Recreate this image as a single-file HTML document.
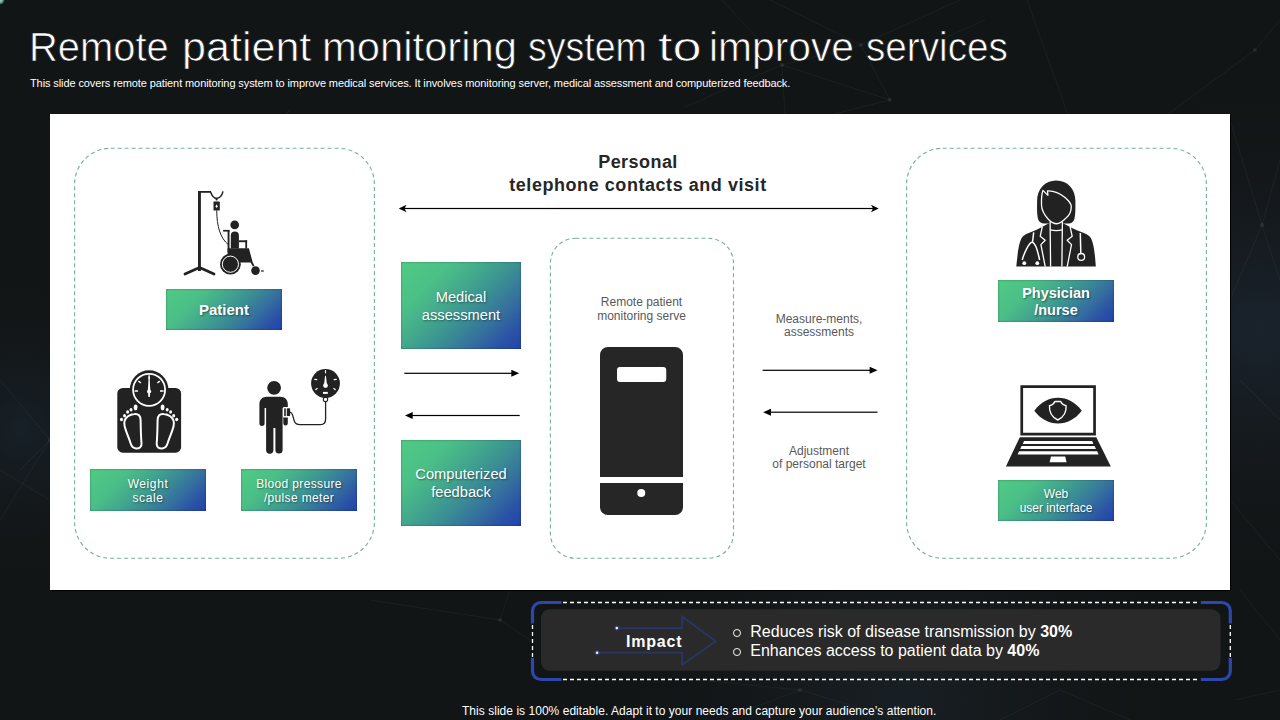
<!DOCTYPE html>
<html>
<head>
<meta charset="utf-8">
<style>
html,body{margin:0;padding:0;}
body{width:1280px;height:720px;position:relative;overflow:hidden;background:#121516;font-family:"Liberation Sans",sans-serif;}
.abs{position:absolute;}
.t{position:absolute;white-space:nowrap;}
#title{left:0;top:23px;width:1280px;height:48px;font-size:40px;line-height:48px;color:#fff;-webkit-text-stroke:0.7px #121516;}
.tw{position:absolute;top:0;transform-origin:0 0;}
#sub{left:30px;top:76px;font-size:11px;line-height:14px;color:#fff;letter-spacing:-0.1px;}
#foot{left:462px;top:704.2px;font-size:12px;line-height:15px;color:#fff;letter-spacing:0.033px;}
#panel{left:50px;top:114px;width:1180px;height:476px;background:#fff;box-shadow:0 0 1px 0.5px #000;}
.dash{position:absolute;border:1px dashed #79a894;box-sizing:border-box;}
.g{position:absolute;background:linear-gradient(135deg,#4fcb83 0%,#4bbf87 25%,#41a38e 45%,#3b9093 57%,#356f9f 74%,#2a52a6 88%,#2243ab 100%);box-shadow:inset 0 0 2px rgba(0,0,0,0.45);color:#fff;text-align:center;text-shadow:1px 1px 2px rgba(0,0,0,0.45);}
.gray{position:absolute;color:#595959;font-size:12px;line-height:13.7px;text-align:center;white-space:nowrap;}
svg{position:absolute;overflow:visible;}
.bul{display:inline-block;width:5.8px;height:5.8px;border:1.2px solid #fff;border-radius:50%;margin:0 9.5px 0 1px;vertical-align:0px;}
</style>
</head>
<body>
<svg id="bg" class="abs" style="left:0;top:0" width="1280" height="720">
 <defs>
  <radialGradient id="rg1" cx="1260" cy="330" r="260" gradientUnits="userSpaceOnUse">
   <stop offset="0" stop-color="#1b2530" stop-opacity="0.9"/><stop offset="1" stop-color="#121516" stop-opacity="0"/>
  </radialGradient>
  <radialGradient id="rg2" cx="20" cy="430" r="160" gradientUnits="userSpaceOnUse">
   <stop offset="0" stop-color="#18222a" stop-opacity="0.9"/><stop offset="1" stop-color="#121516" stop-opacity="0"/>
  </radialGradient>
  <radialGradient id="rg3" cx="900" cy="700" r="300" gradientUnits="userSpaceOnUse">
   <stop offset="0" stop-color="#1a2228" stop-opacity="0.8"/><stop offset="1" stop-color="#121516" stop-opacity="0"/>
  </radialGradient>
  <radialGradient id="rg4" cx="0" cy="0" r="8" gradientUnits="userSpaceOnUse">
   <stop offset="0" stop-color="#a8d8c8"/><stop offset="0.35" stop-color="#6a9f90"/><stop offset="0.6" stop-color="#0a1a14"/><stop offset="1" stop-color="#121516" stop-opacity="0"/>
  </radialGradient>
 </defs>
 <rect width="1280" height="720" fill="url(#rg1)"/>
 <rect width="1280" height="720" fill="url(#rg2)"/>
 <rect width="1280" height="720" fill="url(#rg3)"/>
 <rect width="10" height="10" fill="url(#rg4)"/>
 <g stroke="#ffffff" stroke-opacity="0.045" stroke-width="1" fill="none">
  <path d="M722 0 L782 65 L785 115 M782 65 L861 45 L770 0 M861 45 L960 0 M782 65 L890 100 L861 45 M890 100 L830 115 M685 107 L782 65"/>
  <path d="M1027 0 L1068 115 M1255 50 L1167 115 M1255 50 L1280 20 M985 20 L940 40"/>
  <path d="M100 190 L210 190 L290 110 M100 190 L60 114 M210 190 L240 114"/>
  <path d="M0 380 L50 440 L0 520 M50 440 L20 470 M0 470 L50 500"/>
  <path d="M1230 120 L1262 225 L1280 280 M1262 225 L1230 300 M1262 225 L1280 160 M1240 380 L1280 420 M1230 500 L1280 560"/>
  <path d="M370 600 L500 620 L510 590 M500 620 L530 640 M720 720 L800 690 L900 720 M1000 720 L1060 690 L1130 720 M800 690 L700 680"/>
  <path d="M1240 590 L1280 640 M1235 700 L1280 690"/>
 </g>
 <g fill="#ffffff" fill-opacity="0.08">
  <circle cx="782" cy="65" r="2"/><circle cx="861" cy="45" r="2"/><circle cx="890" cy="100" r="2"/><circle cx="1255" cy="50" r="2"/>
  <circle cx="210" cy="190" r="2"/><circle cx="100" cy="190" r="2"/><circle cx="50" cy="440" r="2"/><circle cx="1262" cy="225" r="2"/><circle cx="500" cy="620" r="2"/><circle cx="800" cy="690" r="2"/>
 </g>
</svg>

<div id="title" class="t"><span class="tw" id="tw0" style="left:29.0px;transform:scaleX(0.997)">Remote</span><span class="tw" id="tw1" style="left:181.77px;transform:scaleX(1.0769)">patient</span><span class="tw" id="tw2" style="left:321.87px;transform:scaleX(1.0442)">monitoring</span><span class="tw" id="tw3" style="left:528.09px;transform:scaleX(0.9377)">system</span><span class="tw" id="tw4" style="left:657.84px;transform:scaleX(1.3066)">to</span><span class="tw" id="tw5" style="left:708.53px;transform:scaleX(1.019)">improve</span><span class="tw" id="tw6" style="left:865.67px;transform:scaleX(0.9671)">services</span></div>
<div id="sub" class="t">This slide covers remote patient monitoring system to improve medical services. It involves monitoring server, medical assessment and computerized feedback.</div>

<div id="panel" class="abs"></div>

<!-- dashed containers -->
<svg style="left:0;top:0" width="1280" height="720">
 <g fill="none" stroke="#74b09c" stroke-width="1.1" stroke-dasharray="4 3">
  <rect x="74.6" y="148.3" width="299.8" height="410" rx="36"/>
  <rect x="550.4" y="238.3" width="183.1" height="320" rx="25"/>
  <rect x="906.6" y="148.3" width="299.8" height="410" rx="36"/>
 </g>
</svg>

<!-- gradient labels -->
<div class="g" style="left:166px;top:289px;width:116px;height:41px;font-weight:bold;font-size:15px;line-height:41px;">Patient</div>
<div class="g" style="left:90px;top:469px;width:116px;height:41.5px;font-size:12px;line-height:14px;padding-top:8px;box-sizing:border-box;letter-spacing:0.6px;">Weight<br>scale</div>
<div class="g" style="left:241px;top:469px;width:116px;height:41.5px;font-size:12px;line-height:14px;padding-top:8px;box-sizing:border-box;letter-spacing:0.35px;">Blood pressure<br>/pulse meter</div>
<div class="g" style="left:401px;top:262px;width:120px;height:86.5px;font-size:14.7px;line-height:18px;padding-top:26px;box-sizing:border-box;">Medical<br>assessment</div>
<div class="g" style="left:401px;top:440px;width:120px;height:86px;font-size:14.7px;line-height:18px;padding-top:25px;box-sizing:border-box;">Computerized<br>feedback</div>
<div class="g" style="left:998px;top:280px;width:116px;height:41.6px;font-weight:bold;font-size:14.5px;line-height:17.5px;padding-top:4.6px;box-sizing:border-box;">Physician<br>/nurse</div>
<div class="g" style="left:998px;top:480px;width:116px;height:40.5px;font-size:12px;line-height:13.7px;padding-top:7.9px;box-sizing:border-box;">Web<br>user interface</div>

<!-- center texts -->
<div class="t" style="left:498px;top:151px;width:280px;text-align:center;font-weight:bold;font-size:18px;line-height:23px;color:#262626;letter-spacing:0.45px;">Personal<br><span style="letter-spacing:0.55px">telephone contacts and visit</span></div>
<div class="gray" style="left:581.5px;top:296px;width:120px;">Remote patient<br>monitoring serve</div>
<div class="gray" style="left:759px;top:312.5px;width:120px;">Measure-ments,<br>assessments</div>
<div class="gray" style="left:759px;top:444.5px;width:120px;">Adjustment<br>of personal target</div>

<!-- arrows -->
<svg style="left:0;top:0" width="1280" height="720">
  <g fill="#000" stroke="none">
    <rect x="404" y="207.9" width="470" height="1.2"/>
    <path d="M398.8 208.5 L406.5 204.8 L404.5 208.5 L406.5 212.2 Z"/>
    <path d="M878.7 208.5 L871 204.8 L873 208.5 L871 212.2 Z"/>
    <rect x="404.3" y="372.7" width="108" height="1.2"/>
    <path d="M519.2 373.3 L511.3 369.8 L511.3 376.8 Z"/>
    <rect x="412" y="414.9" width="107.7" height="1.2"/>
    <path d="M405 415.5 L412.7 412 L412.7 419 Z"/>
    <rect x="762.6" y="369.7" width="108" height="1.2"/>
    <path d="M877.5 370.3 L869.6 366.8 L869.6 373.8 Z"/>
    <rect x="770" y="411.6" width="107.5" height="1.2"/>
    <path d="M763.1 412.2 L771 408.7 L771 415.7 Z"/>
  </g>
</svg>


<!-- icons -->
<svg style="left:0;top:0" width="1280" height="720">
 <g id="patient" fill="#222" stroke="none">
  <rect x="198" y="191" width="2.9" height="80"/>
  <rect x="198" y="191" width="13" height="1.8"/>
  <path d="M210.6 191.9 C212 196 214 198.3 216.6 198.3 C219.5 198.3 222 195.5 223 191.4" fill="none" stroke="#222" stroke-width="1.5"/>
  <circle cx="216.6" cy="199.5" r="1.1"/>
  <rect x="213.5" y="201.6" width="6.3" height="9" rx="0.6"/>
  <path d="M216.6 204.3 L217.6 206.3 L216.6 208.3 L215.6 206.3 Z" fill="#fff"/>
  <path d="M216.7 210.5 C216.9 226 220 238 228.5 244.8" fill="none" stroke="#222" stroke-width="1"/>
  <path d="M199.5 267.5 L185 274 M199.5 267.5 L214 274" stroke="#222" stroke-width="2.8" stroke-linecap="round"/>
  <circle cx="234.7" cy="224.9" r="4.3"/>
  <path d="M230.8 248.5 L230.8 235.5 A4.05 4.05 0 0 1 238.9 235.5 L238.9 248.5 Z"/>
  <rect x="227.6" y="230.3" width="1.9" height="22"/>
  <rect x="223.1" y="229.9" width="6.4" height="1.7"/>
  <rect x="238.9" y="240.3" width="8.2" height="1.9"/>
  <rect x="245.3" y="240.3" width="1.8" height="8.2"/>
  <path d="M227.6 248.3 L248.9 248.3 L252.6 262 L254.4 265.8 L252.8 266.4 L250.6 262.5 L238 262.5 L227.6 255 Z"/>
  <circle cx="230.4" cy="264.2" r="10.4"/>
  <circle cx="230.4" cy="264.2" r="8.1" fill="none" stroke="#fff" stroke-width="1"/>
  <circle cx="255.5" cy="270.6" r="4.3"/>
  <rect x="261" y="270.4" width="2.8" height="1.2"/>
 </g>

 <g id="scale" fill="#222" stroke="none">
  <rect x="117.3" y="387.9" width="63.8" height="64.8" rx="5.5"/>
  <circle cx="149.1" cy="389.6" r="19.3"/>
  <circle cx="149.1" cy="389.8" r="16" fill="none" stroke="#fff" stroke-width="1.8"/>
  <g stroke="#fff" stroke-width="1.5">
   <path d="M149.1 375.3 V379.3 M134.6 391 H138 M160 391 H163.6 M138.4 381 L140.8 383 M159.8 381 L157.4 383"/>
  </g>
  <path d="M148.6 377 L149.6 377 L150.3 390 L147.9 390 Z" fill="#fff"/>
  <circle cx="149.1" cy="391.6" r="2.1" fill="#fff"/>
  <rect x="148.2" y="392" width="1.8" height="4.8" fill="#fff"/>
  <g id="foot" fill="none" stroke="#fff" stroke-width="2">
   <path d="M134.5 414 C138.5 413.5 140.5 416 140.6 420 C140.8 428 140.8 436 141.5 443 C142 447.5 139 448.6 136 448.4 C133 448.2 131.5 446.5 130.5 443 C129 438 126 432 124.6 426 C123.5 421 125 418.5 128 416.3 C130 414.8 132 414.2 134.5 414 Z"/>
  </g>
  <g fill="#fff">
   <ellipse cx="135.6" cy="407.4" rx="1.9" ry="2.8"/>
   <ellipse cx="131" cy="409.7" rx="1.5" ry="1.8"/>
   <ellipse cx="127.6" cy="412" rx="1.5" ry="1.7"/>
   <ellipse cx="124.5" cy="415.7" rx="1.5" ry="1.7"/>
   <ellipse cx="121.5" cy="419.5" rx="1.6" ry="1.8"/>
  </g>
  <g transform="translate(298.2 0) scale(-1 1)">
   <path d="M134.5 414 C138.5 413.5 140.5 416 140.6 420 C140.8 428 140.8 436 141.5 443 C142 447.5 139 448.6 136 448.4 C133 448.2 131.5 446.5 130.5 443 C129 438 126 432 124.6 426 C123.5 421 125 418.5 128 416.3 C130 414.8 132 414.2 134.5 414 Z" fill="none" stroke="#fff" stroke-width="2"/>
   <g fill="#fff">
    <ellipse cx="135.6" cy="407.4" rx="1.9" ry="2.8"/>
    <ellipse cx="131" cy="409.7" rx="1.5" ry="1.8"/>
    <ellipse cx="127.6" cy="412" rx="1.5" ry="1.7"/>
    <ellipse cx="124.5" cy="415.7" rx="1.5" ry="1.7"/>
    <ellipse cx="121.5" cy="419.5" rx="1.6" ry="1.8"/>
   </g>
  </g>
 </g>

 <g id="bp" fill="#222" stroke="none">
  <circle cx="274.1" cy="387.8" r="6.9"/>
  <path d="M259.4 423.3 V404 C259.4 399.5 262.5 396.7 267 396.7 H280.2 C284.7 396.7 287.8 399.5 287.8 404 V423.3 A2.25 2.25 0 0 1 283.3 423.3 V408 H282.6 V450 A3.6 3.6 0 0 1 275.4 450 V428 H273.4 V450 A3.65 3.65 0 0 1 266.1 450 V408 H264.6 V423.3 A2.6 2.6 0 0 1 259.4 423.3 Z"/>
  <rect x="283" y="407" width="7.8" height="10.4" rx="0.8" fill="#fff"/>
  <rect x="284.2" y="408.3" width="1.6" height="7.8"/>
  <rect x="286.8" y="408.3" width="3.3" height="7.8" rx="0.7"/>
  <path d="M290 412.2 C293 412.5 293 418 294.5 421.5 C295.5 424 297 424.6 300 424.6 L320.5 424.6 C324 424.6 325.6 423 325.6 419 L325.6 400" fill="none" stroke="#222" stroke-width="1.3"/>
  <circle cx="325.5" cy="399.4" r="2.2" fill="#fff" stroke="#222" stroke-width="1.1"/>
  <circle cx="325.5" cy="383.5" r="14.4"/>
  <g stroke="#fff" stroke-width="1.2" stroke-linecap="round">
   <path d="M325.5 370.7 V372.8 M314.8 379.4 L316.8 379.6 M336.2 379.4 L334.2 379.6 M315.8 389.6 L317.2 388.6 M335.2 389.6 L333.8 388.6"/>
  </g>
  <path d="M325.1 375.8 L325.9 375.8 L326.9 384 L324.1 384 Z" fill="#fff"/>
  <circle cx="325.5" cy="385.6" r="2.4" fill="#fff"/>
  <rect x="323" y="391.9" width="4.8" height="2" fill="#fff"/>
 </g>

 <g id="doctor" fill="#222" stroke="none">
  <path d="M1056.2 180.4 C1067.5 180.4 1075.4 189 1075.4 201 C1075.4 208 1075.6 214 1074.5 218.5 C1073.5 222.5 1071 223.5 1068 223.5 L1045 223.5 C1041 223.5 1038.7 222 1037.8 218 C1036.8 213 1037.1 207 1037.1 201 C1037.1 189 1045 180.4 1056.2 180.4 Z"/>
  <path d="M1016.3 266.6 C1017.5 255 1018.5 243 1022 237.5 C1024.5 234 1030 232.5 1035 230.5 C1040 228.5 1044 225.5 1049.6 223 L1049.6 221 L1062.5 221 L1062.5 223 C1068 225.5 1072 228.5 1077.5 230.5 C1082.5 232.5 1088 234 1090.5 237.5 C1094 243 1095 255 1095.8 266.6 Z"/>
  <g fill="none" stroke="#fff" stroke-width="1.3" stroke-linejoin="round">
   <path d="M1042.9 190.4 L1047.9 195.4 L1047.5 190.8 C1052 190.6 1058 191.5 1065 197.5 C1068.5 200.5 1071 203 1071.25 206 C1071.4 211 1070 215 1065.8 218.3 C1062.5 221.5 1059.5 223.75 1056.7 223.75 C1053 223.75 1050.5 221.5 1048.3 219.2 C1044 214.5 1041.7 211 1041.5 205 C1041.3 199 1041.6 194 1042.9 190.4 Z"/>
   <path d="M1050.1 221.5 L1050.6 266.6 M1062.4 221.5 L1061.9 266.6"/>
   <path d="M1050.4 229.8 Q1056.2 231.4 1062.2 229.8"/>
   <path d="M1042.3 226.6 L1040.2 236.3 L1045.2 240.2 L1040.9 244.6 L1045.2 266.6"/>
   <path d="M1070.1 226.6 L1072.2 236.3 L1067.2 240.2 L1071.5 244.6 L1067.2 266.6"/>
   <path d="M1033.7 232.4 L1032.6 241.5 M1022.2 260 C1024.5 252 1029 243 1032.2 242 C1035.2 243 1038 252 1039.6 260" stroke-width="1.5"/>
   <path d="M1080.3 233 L1080.8 253.2" stroke-width="1.5"/>
   <circle cx="1081.2" cy="256.9" r="3.4"/>
  </g>
  <circle cx="1024.3" cy="263.2" r="1.9" fill="#fff"/>
  <circle cx="1037.3" cy="263.2" r="1.9" fill="#fff"/>
 </g>

 <g id="laptop" fill="#222" stroke="none">
  <path fill-rule="evenodd" d="M1020.4 385.3 H1095.9 V435.4 H1020.4 Z M1023.1 388 V432.7 H1093.2 V388 Z"/>
  <path d="M1034.3 410.7 C1041 402 1049 397.8 1058 397.8 C1067 397.8 1075 402 1081.8 410.7 C1075 419.3 1067 423.5 1058 423.5 C1049 423.5 1041 419.3 1034.3 410.7 Z"/>
  <path d="M1054.9 401.5 H1060.7 C1061.6 403.6 1063.3 405.1 1066.1 405.6 C1066.6 412 1063.5 417.2 1057.8 420 C1052.1 417.2 1049 412 1049.5 405.6 C1052.3 405.1 1054 403.6 1054.9 401.5 Z" fill="none" stroke="#fff" stroke-width="1.4" stroke-linejoin="round"/>
  <path d="M1019.8 437.2 H1096.3 L1110.8 466.4 H1005.9 Z"/>
  <g fill="#fff">
   <path d="M1024 441.1 H1092.2 L1093.4 444 H1022.8 Z"/>
   <path d="M1021.6 445.9 H1094.6 L1096 449.1 H1020.2 Z"/>
   <path d="M1019 451.2 H1097.2 L1098.6 454.5 H1017.6 Z"/>
   <path d="M1051 456.5 H1065.2 L1066.6 462.2 H1049.6 Z"/>
  </g>
 </g>

 <g id="phone" fill="#262626" stroke="none">
  <path fill-rule="evenodd" d="M608 347 H675 A8 8 0 0 1 683 355 V477 H600 V355 A8 8 0 0 1 608 347 Z M620 367 H663.25 A3 3 0 0 1 666.25 370 V379 A3 3 0 0 1 663.25 382 H620 A3 3 0 0 1 617 379 V370 A3 3 0 0 1 620 367 Z"/>
  <path fill-rule="evenodd" d="M600 483 H683 V507 A8 8 0 0 1 675 515 H608 A8 8 0 0 1 600 507 Z M641.25 489 A4 4 0 1 0 641.25 497 A4 4 0 1 0 641.25 489 Z"/>
 </g>
</svg>

<!-- impact box -->
<svg style="left:0;top:0" width="1280" height="720">
  <g fill="none" stroke="#fff" stroke-width="1.3" stroke-dasharray="4 3">
   <path d="M563 602.5 H1200"/><path d="M563 679.5 H1200"/>
   <path d="M532.5 625 V657"/><path d="M1230.3 625 V657"/>
  </g>
  <rect x="541" y="609.2" width="679.5" height="61.6" rx="9" fill="#2a2a2a"/>
  <g fill="none" stroke="#2e47ad" stroke-width="3.2" stroke-linecap="butt">
    <path d="M561.5 602.5 H541 A8.5 8.5 0 0 0 532.5 611 V623.5"/>
    <path d="M532.5 658 V671 A8.5 8.5 0 0 0 541 679.5 H561.5"/>
    <path d="M1200.8 602.5 H1221.8 A8.5 8.5 0 0 1 1230.3 611 V623.5"/>
    <path d="M1230.3 658 V671 A8.5 8.5 0 0 1 1221.8 679.5 H1200.8"/>
  </g>
  <g fill="none" stroke="#2b3566" stroke-linejoin="miter">
    <path d="M616.8 628.1 H682.2 V616.6 L715.8 641.2 L682.2 664.7 V652.7 H597.1" stroke-width="1.8"/>
  </g>
  <circle cx="616.8" cy="628.1" r="2.6" fill="#3a4a9a" opacity="0.5"/>
  <circle cx="597.1" cy="652.7" r="2.6" fill="#3a4a9a" opacity="0.5"/>
  <circle cx="616.8" cy="628.1" r="1.3" fill="#eef"/>
  <circle cx="597.1" cy="652.7" r="1.3" fill="#eef"/>
</svg>

<div class="t" style="left:732px;top:621.7px;font-size:16px;line-height:19px;color:#fff;">
<div><span class="bul"></span>Reduces risk of disease transmission by <b>30%</b></div>
<div><span class="bul"></span>Enhances access to patient data by <b>40%</b></div>
</div>
<div class="t" style="left:626px;top:632px;font-size:16px;font-weight:bold;color:#fff;line-height:20px;letter-spacing:0.8px;">Impact</div>

<div id="foot" class="t">This slide is 100% editable. Adapt it to your needs and capture your audience’s attention.</div>
</body>
</html>
